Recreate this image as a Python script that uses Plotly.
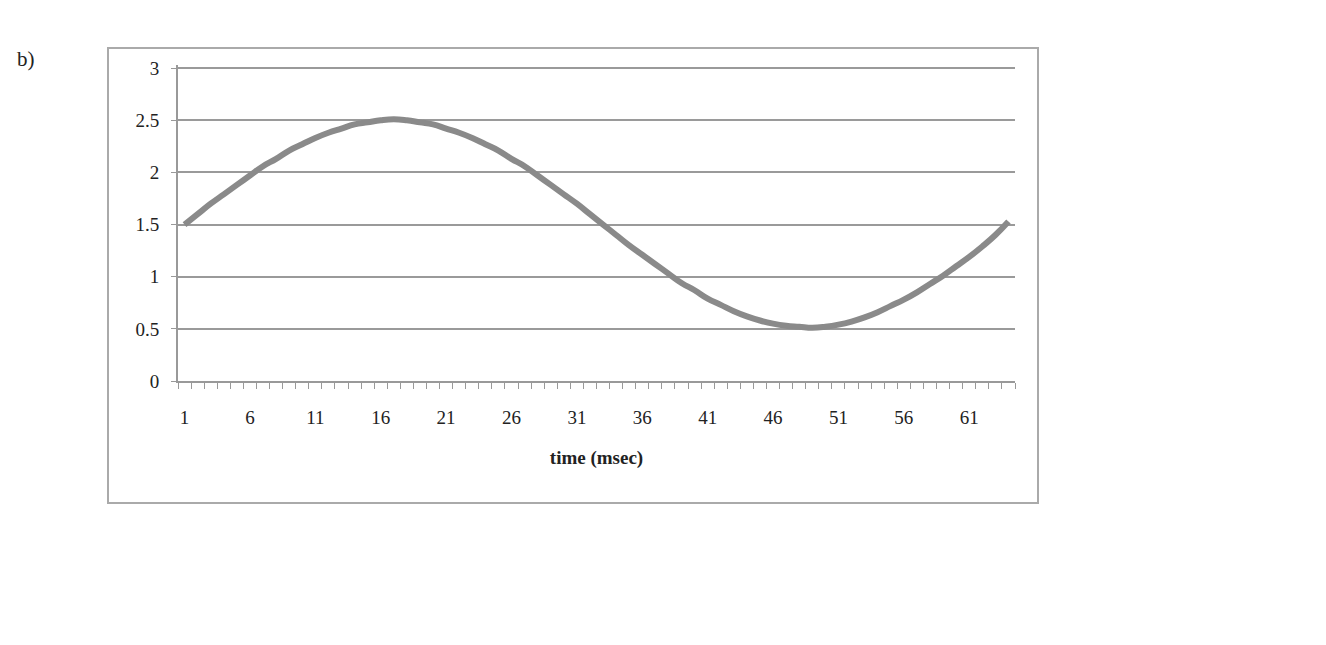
import plotly.graph_objects as go

# values
time_ms = list(range(1, 65))
signal = [1.50, 1.60, 1.70, 1.79, 1.88, 1.97, 2.06, 2.13, 2.21, 2.27, 2.33, 2.38, 2.42, 2.46, 2.48, 2.50,
          2.51, 2.50, 2.48, 2.46, 2.42, 2.38, 2.33, 2.27, 2.21, 2.13, 2.06, 1.97, 1.88, 1.79, 1.70, 1.60,
          1.50, 1.40, 1.30, 1.21, 1.12, 1.03, 0.94, 0.87, 0.79, 0.73, 0.67, 0.62, 0.58, 0.55, 0.53, 0.52,
          0.51, 0.52, 0.54, 0.57, 0.61, 0.66, 0.72, 0.78, 0.85, 0.93, 1.01, 1.10, 1.19, 1.29, 1.40, 1.53]
x_ticks = [1, 6, 11, 16, 21, 26, 31, 36, 41, 46, 51, 56, 61]
y_ticks = [0, 0.5, 1, 1.5, 2, 2.5, 3]

serif = "Liberation Serif, DejaVu Serif, serif"

fig = go.Figure(go.Scatter(
    x=time_ms, y=signal, mode="lines",
    line=dict(color="#8a8a8a", width=6, shape="spline", smoothing=1.3),
    showlegend=False,
))

fig.update_layout(
    width=1326, height=645,
    margin=dict(l=170, r=319, t=57, b=272),
    paper_bgcolor="white", plot_bgcolor="white",
    font=dict(family=serif, size=19, color="#222"),
    xaxis=dict(
        range=[0.5, 64.5], tickvals=x_ticks, ticks="", showgrid=False,
        showline=True, linecolor="#999", linewidth=2, zeroline=False,
        ticklabelstandoff=18,
        minor=dict(tick0=0.5, dtick=1, ticks="outside", ticklen=6, tickcolor="#999", showgrid=False),
        title=dict(text="<b>time (msec)</b>", font=dict(size=19), standoff=24),
    ),
    yaxis=dict(
        range=[0, 3.03], tickvals=y_ticks, ticktext=["0", "0.5", "1", "1.5", "2", "2.5", "3"],
        showgrid=True, gridcolor="#9a9a9a", gridwidth=1.5, zeroline=False,
        showline=True, linecolor="#999", linewidth=2, ticks="outside", ticklen=5, tickcolor="#999",
        ticklabelstandoff=8,
    ),
    shapes=[dict(type="rect", xref="paper", yref="paper",
                 x0=-70 / 837, x1=1 + 23 / 837, y0=-122 / 316, y1=1 + 17 / 316,
                 line=dict(color="#aaa", width=2))],
    annotations=[dict(text="b)", xref="paper", yref="paper", x=-163 / 837, y=1 + 20 / 316,
                      xanchor="left", yanchor="top", showarrow=False, font=dict(size=21))],
)

fig.write_html("out.html")
